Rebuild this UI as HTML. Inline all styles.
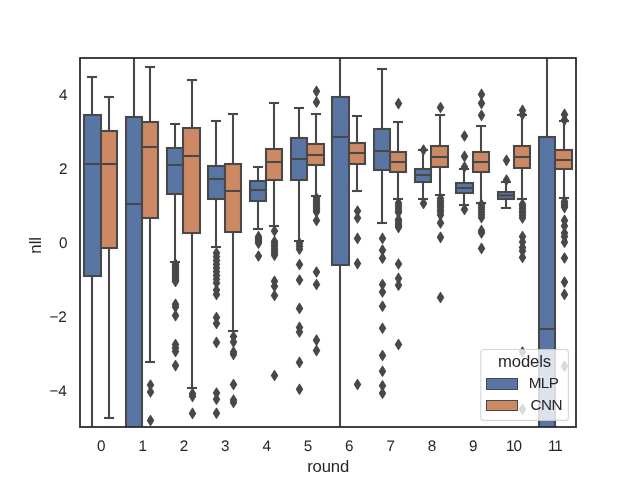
<!DOCTYPE html>
<html><head><meta charset="utf-8"><title>boxplot</title>
<style>html,body{margin:0;padding:0;background:#fff}body{width:640px;height:480px;overflow:hidden}</style>
</head><body>
<svg width="640" height="480" viewBox="0 0 640 480" style="display:block">
<rect width="640" height="480" fill="#fff"/>
<defs><clipPath id="ax"><rect x="80" y="58" width="496" height="369"/></clipPath></defs>
<g clip-path="url(#ax)">
<g stroke="#484848" stroke-width="2.08" fill="none" stroke-linecap="square">
<path d="M92 115V77M92 276V520"/>
<path d="M88 77H96"/>
<rect x="84" y="115" width="17" height="161" fill="#5875a4"/>
<path d="M84 164H101"/>
</g>
<g stroke="#484848" stroke-width="2.08" fill="none" stroke-linecap="square">
<path d="M109 131V97M109 248V418"/>
<path d="M105 97H113"/>
<path d="M105 418H113"/>
<rect x="101" y="131" width="16" height="117" fill="#cc8963"/>
<path d="M101 164H117"/>
</g>
<g stroke="#484848" stroke-width="2.08" fill="none" stroke-linecap="square">
<path d="M134 117V0M134 500V520"/>
<rect x="126" y="117" width="16" height="383" fill="#5875a4"/>
<path d="M126 204H142"/>
</g>
<g stroke="#484848" stroke-width="2.08" fill="none" stroke-linecap="square">
<path d="M150 122V67M150 218V362"/>
<path d="M146 67H154"/>
<path d="M146 362H154"/>
<rect x="142" y="122" width="16" height="96" fill="#cc8963"/>
<path d="M142 147H158"/>
</g>
<g stroke="#484848" stroke-width="2.08" fill="none" stroke-linecap="square">
<path d="M175 148V124M175 194V262"/>
<path d="M171 124H179"/>
<path d="M171 262H179"/>
<rect x="167" y="148" width="16" height="46" fill="#5875a4"/>
<path d="M167 165H183"/>
</g>
<g stroke="#484848" stroke-width="2.08" fill="none" stroke-linecap="square">
<path d="M192 128V80M192 233V388"/>
<path d="M188 80H196"/>
<path d="M188 388H196"/>
<rect x="183" y="128" width="17" height="105" fill="#cc8963"/>
<path d="M183 156H200"/>
</g>
<g stroke="#484848" stroke-width="2.08" fill="none" stroke-linecap="square">
<path d="M216 166V121M216 199V247"/>
<path d="M212 121H220"/>
<path d="M212 247H220"/>
<rect x="208" y="166" width="17" height="33" fill="#5875a4"/>
<path d="M208 179H225"/>
</g>
<g stroke="#484848" stroke-width="2.08" fill="none" stroke-linecap="square">
<path d="M233 164V114M233 232V331"/>
<path d="M229 114H237"/>
<path d="M229 331H237"/>
<rect x="225" y="164" width="16" height="68" fill="#cc8963"/>
<path d="M225 191H241"/>
</g>
<g stroke="#484848" stroke-width="2.08" fill="none" stroke-linecap="square">
<path d="M258 181V167M258 201V229"/>
<path d="M254 167H262"/>
<path d="M254 229H262"/>
<rect x="250" y="181" width="16" height="20" fill="#5875a4"/>
<path d="M250 190H266"/>
</g>
<g stroke="#484848" stroke-width="2.08" fill="none" stroke-linecap="square">
<path d="M274 149V103M274 180V226"/>
<path d="M270 103H278"/>
<path d="M270 226H278"/>
<rect x="266" y="149" width="16" height="31" fill="#cc8963"/>
<path d="M266 162H282"/>
</g>
<g stroke="#484848" stroke-width="2.08" fill="none" stroke-linecap="square">
<path d="M299 138V108M299 180V241"/>
<path d="M295 108H303"/>
<path d="M295 241H303"/>
<rect x="291" y="138" width="16" height="42" fill="#5875a4"/>
<path d="M291 159H307"/>
</g>
<g stroke="#484848" stroke-width="2.08" fill="none" stroke-linecap="square">
<path d="M316 144V114M316 165V196"/>
<path d="M312 114H320"/>
<path d="M312 196H320"/>
<rect x="307" y="144" width="17" height="21" fill="#cc8963"/>
<path d="M307 155H324"/>
</g>
<g stroke="#484848" stroke-width="2.08" fill="none" stroke-linecap="square">
<path d="M340 97V0M340 265V520"/>
<rect x="332" y="97" width="17" height="168" fill="#5875a4"/>
<path d="M332 137H349"/>
</g>
<g stroke="#484848" stroke-width="2.08" fill="none" stroke-linecap="square">
<path d="M357 143V116M357 164V191"/>
<path d="M353 116H361"/>
<path d="M353 191H361"/>
<rect x="349" y="143" width="16" height="21" fill="#cc8963"/>
<path d="M349 153H365"/>
</g>
<g stroke="#484848" stroke-width="2.08" fill="none" stroke-linecap="square">
<path d="M382 129V69M382 170V223"/>
<path d="M378 69H386"/>
<path d="M378 223H386"/>
<rect x="374" y="129" width="16" height="41" fill="#5875a4"/>
<path d="M374 151H390"/>
</g>
<g stroke="#484848" stroke-width="2.08" fill="none" stroke-linecap="square">
<path d="M398 152V122M398 172V199"/>
<path d="M394 122H402"/>
<path d="M394 199H402"/>
<rect x="390" y="152" width="16" height="20" fill="#cc8963"/>
<path d="M390 162H406"/>
</g>
<g stroke="#484848" stroke-width="2.08" fill="none" stroke-linecap="square">
<path d="M423 169V150M423 182V199"/>
<path d="M419 150H427"/>
<path d="M419 199H427"/>
<rect x="415" y="169" width="16" height="13" fill="#5875a4"/>
<path d="M415 175H431"/>
</g>
<g stroke="#484848" stroke-width="2.08" fill="none" stroke-linecap="square">
<path d="M440 146V115M440 167V195"/>
<path d="M436 115H444"/>
<path d="M436 195H444"/>
<rect x="431" y="146" width="17" height="21" fill="#cc8963"/>
<path d="M431 157H448"/>
</g>
<g stroke="#484848" stroke-width="2.08" fill="none" stroke-linecap="square">
<path d="M464 183V169M464 193V205"/>
<path d="M460 169H468"/>
<path d="M460 205H468"/>
<rect x="456" y="183" width="17" height="10" fill="#5875a4"/>
<path d="M456 188H473"/>
</g>
<g stroke="#484848" stroke-width="2.08" fill="none" stroke-linecap="square">
<path d="M481 152V126M481 172V203"/>
<path d="M477 126H485"/>
<path d="M477 203H485"/>
<rect x="473" y="152" width="16" height="20" fill="#cc8963"/>
<path d="M473 162H489"/>
</g>
<g stroke="#484848" stroke-width="2.08" fill="none" stroke-linecap="square">
<path d="M506 192V182M506 199V208"/>
<path d="M502 182H510"/>
<path d="M502 208H510"/>
<rect x="498" y="192" width="16" height="7" fill="#5875a4"/>
<path d="M498 195.5H514"/>
</g>
<g stroke="#484848" stroke-width="2.08" fill="none" stroke-linecap="square">
<path d="M522 146V115M522 168V199"/>
<path d="M518 115H526"/>
<path d="M518 199H526"/>
<rect x="514" y="146" width="16" height="22" fill="#cc8963"/>
<path d="M514 157H530"/>
</g>
<g stroke="#484848" stroke-width="2.08" fill="none" stroke-linecap="square">
<path d="M547 137V0M547 500V520"/>
<rect x="539" y="137" width="16" height="363" fill="#5875a4"/>
<path d="M539 329H555"/>
</g>
<g stroke="#484848" stroke-width="2.08" fill="none" stroke-linecap="square">
<path d="M564 150V121M564 169V198"/>
<path d="M560 121H568"/>
<path d="M560 198H568"/>
<rect x="555" y="150" width="17" height="19" fill="#cc8963"/>
<path d="M555 160H572"/>
</g>
<g fill="#484848">
<path d="M109.10 426.30H109.90L113.30 431.90L109.90 437.50H109.10L105.70 431.90Z"/>
<path d="M150.10 379.40H150.90L154.30 385.00L150.90 390.60H150.10L146.70 385.00Z"/>
<path d="M150.10 386.40H150.90L154.30 392.00L150.90 397.60H150.10L146.70 392.00Z"/>
<path d="M150.10 414.90H150.90L154.30 420.50L150.90 426.10H150.10L146.70 420.50Z"/>
<path d="M175.10 258.40H175.90L179.30 264.00L175.90 269.60H175.10L171.70 264.00Z"/>
<path d="M175.10 259.99H175.90L179.30 265.59L175.90 271.19H175.10L171.70 265.59Z"/>
<path d="M175.10 261.58H175.90L179.30 267.18L175.90 272.78H175.10L171.70 267.18Z"/>
<path d="M175.10 263.17H175.90L179.30 268.77L175.90 274.37H175.10L171.70 268.77Z"/>
<path d="M175.10 264.76H175.90L179.30 270.36L175.90 275.96H175.10L171.70 270.36Z"/>
<path d="M175.10 266.35H175.90L179.30 271.95L175.90 277.55H175.10L171.70 271.95Z"/>
<path d="M175.10 267.95H175.90L179.30 273.55L175.90 279.15H175.10L171.70 273.55Z"/>
<path d="M175.10 269.54H175.90L179.30 275.14L175.90 280.74H175.10L171.70 275.14Z"/>
<path d="M175.10 271.13H175.90L179.30 276.73L175.90 282.33H175.10L171.70 276.73Z"/>
<path d="M175.10 272.72H175.90L179.30 278.32L175.90 283.92H175.10L171.70 278.32Z"/>
<path d="M175.10 274.31H175.90L179.30 279.91L175.90 285.51H175.10L171.70 279.91Z"/>
<path d="M175.10 275.90H175.90L179.30 281.50L175.90 287.10H175.10L171.70 281.50Z"/>
<path d="M175.10 298.70H175.90L179.30 304.30L175.90 309.90H175.10L171.70 304.30Z"/>
<path d="M175.10 301.40H175.90L179.30 307.00L175.90 312.60H175.10L171.70 307.00Z"/>
<path d="M175.10 310.00H175.90L179.30 315.60L175.90 321.20H175.10L171.70 315.60Z"/>
<path d="M175.10 339.00H175.90L179.30 344.60L175.90 350.20H175.10L171.70 344.60Z"/>
<path d="M175.10 342.40H175.90L179.30 348.00L175.90 353.60H175.10L171.70 348.00Z"/>
<path d="M175.10 345.80H175.90L179.30 351.40L175.90 357.00H175.10L171.70 351.40Z"/>
<path d="M175.10 360.00H175.90L179.30 365.60L175.90 371.20H175.10L171.70 365.60Z"/>
<path d="M192.10 388.10H192.90L196.30 393.70L192.90 399.30H192.10L188.70 393.70Z"/>
<path d="M192.10 390.70H192.90L196.30 396.30L192.90 401.90H192.10L188.70 396.30Z"/>
<path d="M192.10 407.80H192.90L196.30 413.40L192.90 419.00H192.10L188.70 413.40Z"/>
<path d="M216.10 247.40H216.90L220.30 253.00L216.90 258.60H216.10L212.70 253.00Z"/>
<path d="M216.10 251.15H216.90L220.30 256.75L216.90 262.35H216.10L212.70 256.75Z"/>
<path d="M216.10 254.90H216.90L220.30 260.50L216.90 266.10H216.10L212.70 260.50Z"/>
<path d="M216.10 258.65H216.90L220.30 264.25L216.90 269.85H216.10L212.70 264.25Z"/>
<path d="M216.10 262.40H216.90L220.30 268.00L216.90 273.60H216.10L212.70 268.00Z"/>
<path d="M216.10 266.15H216.90L220.30 271.75L216.90 277.35H216.10L212.70 271.75Z"/>
<path d="M216.10 269.90H216.90L220.30 275.50L216.90 281.10H216.10L212.70 275.50Z"/>
<path d="M216.10 273.65H216.90L220.30 279.25L216.90 284.85H216.10L212.70 279.25Z"/>
<path d="M216.10 277.40H216.90L220.30 283.00L216.90 288.60H216.10L212.70 283.00Z"/>
<path d="M216.10 284.40H216.90L220.30 290.00L216.90 295.60H216.10L212.70 290.00Z"/>
<path d="M216.10 288.80H216.90L220.30 294.40L216.90 300.00H216.10L212.70 294.40Z"/>
<path d="M216.10 311.90H216.90L220.30 317.50L216.90 323.10H216.10L212.70 317.50Z"/>
<path d="M216.10 317.90H216.90L220.30 323.50L216.90 329.10H216.10L212.70 323.50Z"/>
<path d="M216.10 336.80H216.90L220.30 342.40L216.90 348.00H216.10L212.70 342.40Z"/>
<path d="M216.10 387.40H216.90L220.30 393.00L216.90 398.60H216.10L212.70 393.00Z"/>
<path d="M216.10 393.65H216.90L220.30 399.25L216.90 404.85H216.10L212.70 399.25Z"/>
<path d="M216.10 407.65H216.90L220.30 413.25L216.90 418.85H216.10L212.70 413.25Z"/>
<path d="M233.10 330.90H233.90L237.30 336.50L233.90 342.10H233.10L229.70 336.50Z"/>
<path d="M233.10 336.40H233.90L237.30 342.00L233.90 347.60H233.10L229.70 342.00Z"/>
<path d="M233.10 346.40H233.90L237.30 352.00L233.90 357.60H233.10L229.70 352.00Z"/>
<path d="M233.10 348.70H233.90L237.30 354.30L233.90 359.90H233.10L229.70 354.30Z"/>
<path d="M233.10 378.90H233.90L237.30 384.50L233.90 390.10H233.10L229.70 384.50Z"/>
<path d="M233.10 394.40H233.90L237.30 400.00L233.90 405.60H233.10L229.70 400.00Z"/>
<path d="M233.10 396.90H233.90L237.30 402.50L233.90 408.10H233.10L229.70 402.50Z"/>
<path d="M258.10 231.10H258.90L262.30 236.70L258.90 242.30H258.10L254.70 236.70Z"/>
<path d="M258.10 232.72H258.90L262.30 238.32L258.90 243.92H258.10L254.70 238.32Z"/>
<path d="M258.10 234.35H258.90L262.30 239.95L258.90 245.55H258.10L254.70 239.95Z"/>
<path d="M258.10 235.97H258.90L262.30 241.57L258.90 247.17H258.10L254.70 241.57Z"/>
<path d="M258.10 237.60H258.90L262.30 243.20L258.90 248.80H258.10L254.70 243.20Z"/>
<path d="M258.10 250.40H258.90L262.30 256.00L258.90 261.60H258.10L254.70 256.00Z"/>
<path d="M274.10 225.40H274.90L278.30 231.00L274.90 236.60H274.10L270.70 231.00Z"/>
<path d="M274.10 235.90H274.90L278.30 241.50L274.90 247.10H274.10L270.70 241.50Z"/>
<path d="M274.10 238.18H274.90L278.30 243.78L274.90 249.38H274.10L270.70 243.78Z"/>
<path d="M274.10 240.47H274.90L278.30 246.07L274.90 251.67H274.10L270.70 246.07Z"/>
<path d="M274.10 242.75H274.90L278.30 248.35L274.90 253.95H274.10L270.70 248.35Z"/>
<path d="M274.10 245.03H274.90L278.30 250.63L274.90 256.23H274.10L270.70 250.63Z"/>
<path d="M274.10 247.32H274.90L278.30 252.92L274.90 258.52H274.10L270.70 252.92Z"/>
<path d="M274.10 249.60H274.90L278.30 255.20L274.90 260.80H274.10L270.70 255.20Z"/>
<path d="M274.10 275.65H274.90L278.30 281.25L274.90 286.85H274.10L270.70 281.25Z"/>
<path d="M274.10 280.65H274.90L278.30 286.25L274.90 291.85H274.10L270.70 286.25Z"/>
<path d="M274.10 289.90H274.90L278.30 295.50L274.90 301.10H274.10L270.70 295.50Z"/>
<path d="M274.10 369.90H274.90L278.30 375.50L274.90 381.10H274.10L270.70 375.50Z"/>
<path d="M299.10 237.70H299.90L303.30 243.30L299.90 248.90H299.10L295.70 243.30Z"/>
<path d="M299.10 240.70H299.90L303.30 246.30L299.90 251.90H299.10L295.70 246.30Z"/>
<path d="M299.10 243.60H299.90L303.30 249.20L299.90 254.80H299.10L295.70 249.20Z"/>
<path d="M299.10 258.90H299.90L303.30 264.50L299.90 270.10H299.10L295.70 264.50Z"/>
<path d="M299.10 274.40H299.90L303.30 280.00L299.90 285.60H299.10L295.70 280.00Z"/>
<path d="M299.10 302.80H299.90L303.30 308.40L299.90 314.00H299.10L295.70 308.40Z"/>
<path d="M299.10 321.80H299.90L303.30 327.40L299.90 333.00H299.10L295.70 327.40Z"/>
<path d="M299.10 326.40H299.90L303.30 332.00L299.90 337.60H299.10L295.70 332.00Z"/>
<path d="M299.10 356.80H299.90L303.30 362.40L299.90 368.00H299.10L295.70 362.40Z"/>
<path d="M299.10 383.65H299.90L303.30 389.25L299.90 394.85H299.10L295.70 389.25Z"/>
<path d="M316.10 85.70H316.90L320.30 91.30L316.90 96.90H316.10L312.70 91.30Z"/>
<path d="M316.10 96.60H316.90L320.30 102.20L316.90 107.80H316.10L312.70 102.20Z"/>
<path d="M316.10 192.40H316.90L320.30 198.00L316.90 203.60H316.10L312.70 198.00Z"/>
<path d="M316.10 194.40H316.90L320.30 200.00L316.90 205.60H316.10L312.70 200.00Z"/>
<path d="M316.10 196.40H316.90L320.30 202.00L316.90 207.60H316.10L312.70 202.00Z"/>
<path d="M316.10 198.40H316.90L320.30 204.00L316.90 209.60H316.10L312.70 204.00Z"/>
<path d="M316.10 200.40H316.90L320.30 206.00L316.90 211.60H316.10L312.70 206.00Z"/>
<path d="M316.10 202.40H316.90L320.30 208.00L316.90 213.60H316.10L312.70 208.00Z"/>
<path d="M316.10 204.40H316.90L320.30 210.00L316.90 215.60H316.10L312.70 210.00Z"/>
<path d="M316.10 206.40H316.90L320.30 212.00L316.90 217.60H316.10L312.70 212.00Z"/>
<path d="M316.10 214.90H316.90L320.30 220.50L316.90 226.10H316.10L312.70 220.50Z"/>
<path d="M316.10 266.40H316.90L320.30 272.00L316.90 277.60H316.10L312.70 272.00Z"/>
<path d="M316.10 278.90H316.90L320.30 284.50L316.90 290.10H316.10L312.70 284.50Z"/>
<path d="M316.10 334.60H316.90L320.30 340.20L316.90 345.80H316.10L312.70 340.20Z"/>
<path d="M316.10 345.00H316.90L320.30 350.60L316.90 356.20H316.10L312.70 350.60Z"/>
<path d="M357.10 205.40H357.90L361.30 211.00L357.90 216.60H357.10L353.70 211.00Z"/>
<path d="M357.10 212.40H357.90L361.30 218.00L357.90 223.60H357.10L353.70 218.00Z"/>
<path d="M357.10 232.80H357.90L361.30 238.40L357.90 244.00H357.10L353.70 238.40Z"/>
<path d="M357.10 258.00H357.90L361.30 263.60L357.90 269.20H357.10L353.70 263.60Z"/>
<path d="M357.10 378.90H357.90L361.30 384.50L357.90 390.10H357.10L353.70 384.50Z"/>
<path d="M382.10 232.80H382.90L386.30 238.40L382.90 244.00H382.10L378.70 238.40Z"/>
<path d="M382.10 244.60H382.90L386.30 250.20L382.90 255.80H382.10L378.70 250.20Z"/>
<path d="M382.10 252.60H382.90L386.30 258.20L382.90 263.80H382.10L378.70 258.20Z"/>
<path d="M382.10 278.90H382.90L386.30 284.50L382.90 290.10H382.10L378.70 284.50Z"/>
<path d="M382.10 286.40H382.90L386.30 292.00L382.90 297.60H382.10L378.70 292.00Z"/>
<path d="M382.10 300.65H382.90L386.30 306.25L382.90 311.85H382.10L378.70 306.25Z"/>
<path d="M382.10 322.65H382.90L386.30 328.25L382.90 333.85H382.10L378.70 328.25Z"/>
<path d="M382.10 349.90H382.90L386.30 355.50L382.90 361.10H382.10L378.70 355.50Z"/>
<path d="M382.10 365.65H382.90L386.30 371.25L382.90 376.85H382.10L378.70 371.25Z"/>
<path d="M382.10 380.15H382.90L386.30 385.75L382.90 391.35H382.10L378.70 385.75Z"/>
<path d="M382.10 387.65H382.90L386.30 393.25L382.90 398.85H382.10L378.70 393.25Z"/>
<path d="M398.10 98.00H398.90L402.30 103.60L398.90 109.20H398.10L394.70 103.60Z"/>
<path d="M398.10 197.40H398.90L402.30 203.00L398.90 208.60H398.10L394.70 203.00Z"/>
<path d="M398.10 199.90H398.90L402.30 205.50L398.90 211.10H398.10L394.70 205.50Z"/>
<path d="M398.10 202.40H398.90L402.30 208.00L398.90 213.60H398.10L394.70 208.00Z"/>
<path d="M398.10 204.90H398.90L402.30 210.50L398.90 216.10H398.10L394.70 210.50Z"/>
<path d="M398.10 206.90H398.90L402.30 212.50L398.90 218.10H398.10L394.70 212.50Z"/>
<path d="M398.10 213.90H398.90L402.30 219.50L398.90 225.10H398.10L394.70 219.50Z"/>
<path d="M398.10 215.90H398.90L402.30 221.50L398.90 227.10H398.10L394.70 221.50Z"/>
<path d="M398.10 218.40H398.90L402.30 224.00L398.90 229.60H398.10L394.70 224.00Z"/>
<path d="M398.10 220.40H398.90L402.30 226.00L398.90 231.60H398.10L394.70 226.00Z"/>
<path d="M398.10 221.70H398.90L402.30 227.30L398.90 232.90H398.10L394.70 227.30Z"/>
<path d="M398.10 258.40H398.90L402.30 264.00L398.90 269.60H398.10L394.70 264.00Z"/>
<path d="M398.10 272.80H398.90L402.30 278.40L398.90 284.00H398.10L394.70 278.40Z"/>
<path d="M398.10 279.60H398.90L402.30 285.20L398.90 290.80H398.10L394.70 285.20Z"/>
<path d="M398.10 338.90H398.90L402.30 344.50L398.90 350.10H398.10L394.70 344.50Z"/>
<path d="M423.10 144.40H423.90L427.30 150.00L423.90 155.60H423.10L419.70 150.00Z"/>
<path d="M423.10 197.80H423.90L427.30 203.40L423.90 209.00H423.10L419.70 203.40Z"/>
<path d="M440.10 101.90H440.90L444.30 107.50L440.90 113.10H440.10L436.70 107.50Z"/>
<path d="M440.10 192.90H440.90L444.30 198.50L440.90 204.10H440.10L436.70 198.50Z"/>
<path d="M440.10 195.15H440.90L444.30 200.75L440.90 206.35H440.10L436.70 200.75Z"/>
<path d="M440.10 197.40H440.90L444.30 203.00L440.90 208.60H440.10L436.70 203.00Z"/>
<path d="M440.10 199.65H440.90L444.30 205.25L440.90 210.85H440.10L436.70 205.25Z"/>
<path d="M440.10 201.90H440.90L444.30 207.50L440.90 213.10H440.10L436.70 207.50Z"/>
<path d="M440.10 204.15H440.90L444.30 209.75L440.90 215.35H440.10L436.70 209.75Z"/>
<path d="M440.10 206.40H440.90L444.30 212.00L440.90 217.60H440.10L436.70 212.00Z"/>
<path d="M440.10 209.40H440.90L444.30 215.00L440.90 220.60H440.10L436.70 215.00Z"/>
<path d="M440.10 217.30H440.90L444.30 222.90L440.90 228.50H440.10L436.70 222.90Z"/>
<path d="M440.10 231.70H440.90L444.30 237.30L440.90 242.90H440.10L436.70 237.30Z"/>
<path d="M440.10 291.90H440.90L444.30 297.50L440.90 303.10H440.10L436.70 297.50Z"/>
<path d="M464.10 130.40H464.90L468.30 136.00L464.90 141.60H464.10L460.70 136.00Z"/>
<path d="M464.10 150.80H464.90L468.30 156.40L464.90 162.00H464.10L460.70 156.40Z"/>
<path d="M464.10 161.40H464.90L468.30 167.00L464.90 172.60H464.10L460.70 167.00Z"/>
<path d="M464.10 203.80H464.90L468.30 209.40L464.90 215.00H464.10L460.70 209.40Z"/>
<path d="M481.10 88.80H481.90L485.30 94.40L481.90 100.00H481.10L477.70 94.40Z"/>
<path d="M481.10 97.70H481.90L485.30 103.30L481.90 108.90H481.10L477.70 103.30Z"/>
<path d="M481.10 109.70H481.90L485.30 115.30L481.90 120.90H481.10L477.70 115.30Z"/>
<path d="M481.10 198.90H481.90L485.30 204.50L481.90 210.10H481.10L477.70 204.50Z"/>
<path d="M481.10 201.48H481.90L485.30 207.08L481.90 212.68H481.10L477.70 207.08Z"/>
<path d="M481.10 204.06H481.90L485.30 209.66L481.90 215.26H481.10L477.70 209.66Z"/>
<path d="M481.10 206.64H481.90L485.30 212.24L481.90 217.84H481.10L477.70 212.24Z"/>
<path d="M481.10 209.22H481.90L485.30 214.82L481.90 220.42H481.10L477.70 214.82Z"/>
<path d="M481.10 211.80H481.90L485.30 217.40L481.90 223.00H481.10L477.70 217.40Z"/>
<path d="M481.10 225.10H481.90L485.30 230.70L481.90 236.30H481.10L477.70 230.70Z"/>
<path d="M481.10 227.30H481.90L485.30 232.90L481.90 238.50H481.10L477.70 232.90Z"/>
<path d="M481.10 242.80H481.90L485.30 248.40L481.90 254.00H481.10L477.70 248.40Z"/>
<path d="M506.10 154.70H506.90L510.30 160.30L506.90 165.90H506.10L502.70 160.30Z"/>
<path d="M506.10 174.40H506.90L510.30 180.00L506.90 185.60H506.10L502.70 180.00Z"/>
<path d="M522.10 104.80H522.90L526.30 110.40L522.90 116.00H522.10L518.70 110.40Z"/>
<path d="M522.10 108.90H522.90L526.30 114.50L522.90 120.10H522.10L518.70 114.50Z"/>
<path d="M522.10 198.70H522.90L526.30 204.30L522.90 209.90H522.10L518.70 204.30Z"/>
<path d="M522.10 200.98H522.90L526.30 206.58L522.90 212.18H522.10L518.70 206.58Z"/>
<path d="M522.10 203.27H522.90L526.30 208.87L522.90 214.47H522.10L518.70 208.87Z"/>
<path d="M522.10 205.55H522.90L526.30 211.15L522.90 216.75H522.10L518.70 211.15Z"/>
<path d="M522.10 207.83H522.90L526.30 213.43L522.90 219.03H522.10L518.70 213.43Z"/>
<path d="M522.10 210.12H522.90L526.30 215.72L522.90 221.32H522.10L518.70 215.72Z"/>
<path d="M522.10 212.40H522.90L526.30 218.00L522.90 223.60H522.10L518.70 218.00Z"/>
<path d="M522.10 231.00H522.90L526.30 236.60L522.90 242.20H522.10L518.70 236.60Z"/>
<path d="M522.10 236.40H522.90L526.30 242.00L522.90 247.60H522.10L518.70 242.00Z"/>
<path d="M522.10 241.90H522.90L526.30 247.50L522.90 253.10H522.10L518.70 247.50Z"/>
<path d="M522.10 245.40H522.90L526.30 251.00L522.90 256.60H522.10L518.70 251.00Z"/>
<path d="M522.10 251.80H522.90L526.30 257.40L522.90 263.00H522.10L518.70 257.40Z"/>
<path d="M522.10 346.40H522.90L526.30 352.00L522.90 357.60H522.10L518.70 352.00Z"/>
<path d="M522.10 403.70H522.90L526.30 409.30L522.90 414.90H522.10L518.70 409.30Z"/>
<path d="M564.10 108.80H564.90L568.30 114.40L564.90 120.00H564.10L560.70 114.40Z"/>
<path d="M564.10 114.50H564.90L568.30 120.10L564.90 125.70H564.10L560.70 120.10Z"/>
<path d="M564.10 195.90H564.90L568.30 201.50L564.90 207.10H564.10L560.70 201.50Z"/>
<path d="M564.10 197.83H564.90L568.30 203.43L564.90 209.03H564.10L560.70 203.43Z"/>
<path d="M564.10 199.77H564.90L568.30 205.37L564.90 210.97H564.10L560.70 205.37Z"/>
<path d="M564.10 201.70H564.90L568.30 207.30L564.90 212.90H564.10L560.70 207.30Z"/>
<path d="M564.10 214.80H564.90L568.30 220.40L564.90 226.00H564.10L560.70 220.40Z"/>
<path d="M564.10 220.40H564.90L568.30 226.00L564.90 231.60H564.10L560.70 226.00Z"/>
<path d="M564.10 227.40H564.90L568.30 233.00L564.90 238.60H564.10L560.70 233.00Z"/>
<path d="M564.10 231.00H564.90L568.30 236.60L564.90 242.20H564.10L560.70 236.60Z"/>
<path d="M564.10 236.60H564.90L568.30 242.20L564.90 247.80H564.10L560.70 242.20Z"/>
<path d="M564.10 252.40H564.90L568.30 258.00L564.90 263.60H564.10L560.70 258.00Z"/>
<path d="M564.10 276.50H564.90L568.30 282.10L564.90 287.70H564.10L560.70 282.10Z"/>
<path d="M564.10 288.80H564.90L568.30 294.40L564.90 300.00H564.10L560.70 294.40Z"/>
<path d="M564.10 360.65H564.90L568.30 366.25L564.90 371.85H564.10L560.70 366.25Z"/>
</g>
</g>
<rect x="80" y="58" width="496" height="369" fill="none" stroke="#262626" stroke-width="1.74"/>
<g font-family="Liberation Sans, Arial, sans-serif" font-size="15.28" fill="#262626" text-rendering="geometricPrecision">
<text transform="translate(101.37 451.3)" text-anchor="middle">0</text>
<text transform="translate(142.70 451.3)" text-anchor="middle">1</text>
<text transform="translate(184.03 451.3)" text-anchor="middle">2</text>
<text transform="translate(225.37 451.3)" text-anchor="middle">3</text>
<text transform="translate(266.70 451.3)" text-anchor="middle">4</text>
<text transform="translate(308.03 451.3)" text-anchor="middle">5</text>
<text transform="translate(349.37 451.3)" text-anchor="middle">6</text>
<text transform="translate(390.70 451.3)" text-anchor="middle">7</text>
<text transform="translate(432.03 451.3)" text-anchor="middle">8</text>
<text transform="translate(473.37 451.3)" text-anchor="middle">9</text>
<text transform="translate(513.50 451.3)" text-anchor="middle" letter-spacing="-1.1">10</text>
<text transform="translate(554.83 451.3)" text-anchor="middle" letter-spacing="-1.1">11</text>
<text transform="translate(67.4 99.66)" text-anchor="end">4</text>
<text transform="translate(67.4 173.58)" text-anchor="end">2</text>
<text transform="translate(67.4 247.50)" text-anchor="end">0</text>
<text transform="translate(66.8 322.17)" text-anchor="end">−2</text>
<text transform="translate(66.8 396.09)" text-anchor="end">−4</text>
</g>
<g font-family="Liberation Sans, Arial, sans-serif" font-size="16.67" fill="#262626">
<text x="328.1" y="471.5" text-anchor="middle" letter-spacing="-0.15">round</text>
<text transform="translate(41 245.3) rotate(-90)" text-anchor="middle">nll</text>
</g>
<rect x="480.8" y="349.5" width="87.6" height="70.9" rx="3" ry="3" fill="#fff" fill-opacity="0.8" stroke="#ccc" stroke-opacity="0.8" stroke-width="1.1"/>
<g font-family="Liberation Sans, Arial, sans-serif" fill="#262626">
<text x="524.5" y="366.5" text-anchor="middle" font-size="16.67" letter-spacing="-0.15">models</text>
<rect x="486.5" y="378.5" width="31" height="11" fill="#5875a4" stroke="#484848" stroke-width="1"/>
<rect x="486.5" y="400.5" width="31" height="10" fill="#cc8963" stroke="#484848" stroke-width="1"/>
<text x="528.7" y="388.4" font-size="15.28" letter-spacing="-0.6">MLP</text>
<text x="530.5" y="409.9" font-size="15.28" letter-spacing="-0.5">CNN</text>
</g>
</svg>
</body></html>
